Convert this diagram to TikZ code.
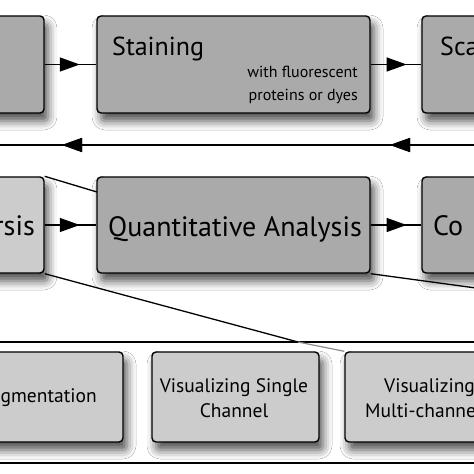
\documentclass[tikz,border=0pt]{standalone}
\usepackage{fontspec}
\setmainfont{PT Sans}
\usetikzlibrary{shadows.blur,arrows.meta,decorations.markings}
\definecolor{darkbox}{RGB}{170,170,170}
\definecolor{lightbox}{RGB}{204,204,204}
\pgfdeclarelayer{bg}
\pgfsetlayers{bg,main}
\tikzset{
  panel/.style={draw=black, line width=1.4pt, rounded corners=4pt,
    blur shadow={shadow xshift=4pt, shadow yshift=-8pt, shadow blur radius=9pt, shadow opacity=70},
    inner sep=0pt},
  dark/.style={panel, fill=darkbox},
  light/.style={panel, fill=lightbox},
  conn/.style={line width=1.3pt},
  midarrow/.style={postaction={decorate}, decoration={markings,
    mark=at position #1 with {\arrow{Triangle[length=20pt,width=14pt]}}}},
  bigtxt/.style={font=\fontsize{26}{30}\selectfont, inner sep=0pt},
  midtxt/.style={font=\fontsize{28}{32}\selectfont, inner sep=0pt},
  smalltxt/.style={font=\fontsize{16}{20}\selectfont, inner sep=0pt},
  lowtxt/.style={font=\fontsize{19.5}{23}\selectfont, inner sep=0pt}
}
\begin{document}
\begin{tikzpicture}[x=1pt,y=-1pt]
\useasboundingbox (0,0) rectangle (474,474);
\clip (0,0) rectangle (474,474);
% top row
\node[dark, minimum width=273pt, minimum height=97pt] (prep) at (-92.5,64.5) {};
\node[dark, minimum width=273pt, minimum height=97pt] (stain) at (233.5,64.5) {};
\node[dark, minimum width=273pt, minimum height=97pt] (scan) at (558.5,64.5) {};
\node[bigtxt, anchor=base west] (stainT) at (112,55) {Staining};
\node[smalltxt, anchor=base east] (stainA) at (358,77) {with fluorescent};
\node[smalltxt, anchor=base east] (stainB) at (358,100) {proteins or dyes};
\node[bigtxt, anchor=base west] (scanT) at (440,55) {Sca};
\draw[conn, midarrow=0.68] (prep.east) -- (stain.west);
\draw[conn, midarrow=0.71] (stain.east) -- (scan.west);
% feedback line
\coordinate (fbR) at (474,145);
\coordinate (fbL) at (0,145);
\draw[conn, midarrow=0.177, midarrow=0.869] (fbR) -- (fbL);
% middle row
\node[light, minimum width=273pt, minimum height=96pt] (ana) at (-92.5,225) {};
\node[dark, minimum width=273pt, minimum height=96pt] (quant) at (233.5,225) {};
\node[dark, minimum width=273pt, minimum height=96pt] (comp) at (558.5,225) {};
\node[midtxt, anchor=base east] (anaT) at (35,235) {rsis};
\node[midtxt, anchor=base] (quantT) at (235,236) {Quantitative Analysis};
\node[midtxt, anchor=base west] (compT) at (433,235) {Co};
\draw[conn, midarrow=0.68] (ana.east) -- (quant.west);
\draw[conn, midarrow=0.71] (quant.east) -- (comp.west);
% bottom panel
\node[draw=black, line width=1.4pt, minimum width=500pt, minimum height=121pt, inner sep=0pt] (outer) at (237,402.5) {};
\node[light, minimum width=167pt, minimum height=90pt] (seg) at (39.5,397) {};
\node[light, minimum width=167pt, minimum height=90pt] (single) at (235.5,397) {};
\node[light, minimum width=167pt, minimum height=90pt] (multi) at (428.5,397) {};
\node[lowtxt, anchor=base east] (segT) at (97,402) {gmentation};
\node[lowtxt, anchor=base] (singleA) at (234,392) {Visualizing Single};
\node[lowtxt, anchor=base] (singleB) at (234,417) {Channel};
\node[lowtxt, anchor=base west] (multiA) at (384,392) {Visualizing};
\node[lowtxt, anchor=base west] (multiB) at (365,417) {Multi-channel};
% zoom lines
\coordinate (quantTL) at (97,192);
\coordinate (cross) at (298,342);
\coordinate (offR) at (520,294);
\begin{pgfonlayer}{bg}
\fill[white] (0,0) rectangle (474,474);
\draw[conn] (ana.north east) -- (quantTL);
\draw[conn] (ana.south east) -- (cross);
\draw[conn] (quant.south east) -- (offR);
\end{pgfonlayer}
\draw[line width=1.2pt, black!45] (cross) -- (multi.north west);
\end{tikzpicture}
\end{document}
